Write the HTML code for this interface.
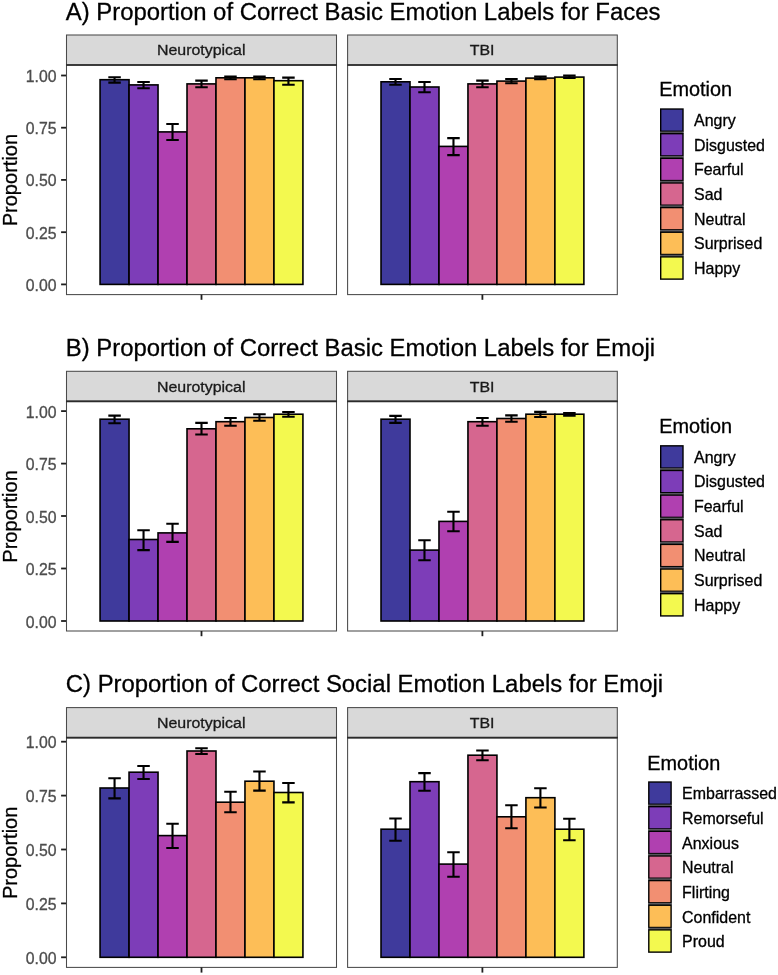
<!DOCTYPE html>
<html lang="en"><head><meta charset="utf-8"><title>Proportion of Correct Emotion Labels</title>
<style>html,body{margin:0;padding:0;background:#fff}body{width:778px;height:975px;overflow:hidden}svg{display:block}</style>
</head><body>
<svg width="778" height="975" viewBox="0 0 778 975" font-family='"Liberation Sans", Arial, Helvetica, sans-serif'>
<rect width="778" height="975" fill="#fff"/>
<g>
<text transform="translate(65.80,19.80) scale(0.9875,1)" font-size="24.2" fill="#000" stroke="#000" stroke-width="0.3">A) Proportion of Correct Basic Emotion Labels for Faces</text>
<text transform="translate(17.10,180.10) rotate(-90) scale(0.993,1)" text-anchor="middle" font-size="20.2" fill="#000" stroke="#000" stroke-width="0.3">Proportion</text>
<text transform="translate(56.50,290.90) scale(1.02,1.08)" text-anchor="end" font-size="15.5" fill="#4d4d4d" stroke="#4d4d4d" stroke-width="0.3">0.00</text>
<line x1="61.1" x2="66.5" y1="284.4" y2="284.4" stroke="#1f1f1f" stroke-width="1.8"/>
<text transform="translate(56.50,238.67) scale(1.02,1.08)" text-anchor="end" font-size="15.5" fill="#4d4d4d" stroke="#4d4d4d" stroke-width="0.3">0.25</text>
<line x1="61.1" x2="66.5" y1="232.2" y2="232.2" stroke="#1f1f1f" stroke-width="1.8"/>
<text transform="translate(56.50,186.45) scale(1.02,1.08)" text-anchor="end" font-size="15.5" fill="#4d4d4d" stroke="#4d4d4d" stroke-width="0.3">0.50</text>
<line x1="61.1" x2="66.5" y1="179.9" y2="179.9" stroke="#1f1f1f" stroke-width="1.8"/>
<text transform="translate(56.50,134.22) scale(1.02,1.08)" text-anchor="end" font-size="15.5" fill="#4d4d4d" stroke="#4d4d4d" stroke-width="0.3">0.75</text>
<line x1="61.1" x2="66.5" y1="127.7" y2="127.7" stroke="#1f1f1f" stroke-width="1.8"/>
<text transform="translate(56.50,82.00) scale(1.02,1.08)" text-anchor="end" font-size="15.5" fill="#4d4d4d" stroke="#4d4d4d" stroke-width="0.3">1.00</text>
<line x1="61.1" x2="66.5" y1="75.5" y2="75.5" stroke="#1f1f1f" stroke-width="1.8"/>
<rect x="66.5" y="35.0" width="270.0" height="30.0" fill="#d9d9d9" stroke="#4a4a4a" stroke-width="1.05"/>
<text transform="translate(201.20,55.45) scale(1.07,1)" text-anchor="middle" font-size="14.9" fill="#1a1a1a" stroke="#1a1a1a" stroke-width="0.3">Neurotypical</text>
<rect x="100.07" y="79.7" width="28.98" height="204.7" fill="#3F3A9C" stroke="#000" stroke-width="1.6"/>
<rect x="129.05" y="84.9" width="28.98" height="199.5" fill="#7D3DB8" stroke="#000" stroke-width="1.6"/>
<rect x="158.03" y="131.9" width="28.98" height="152.5" fill="#B040B0" stroke="#000" stroke-width="1.6"/>
<rect x="187.01" y="83.9" width="28.98" height="200.5" fill="#D6668F" stroke="#000" stroke-width="1.6"/>
<rect x="215.99" y="77.8" width="28.98" height="206.6" fill="#F28F72" stroke="#000" stroke-width="1.6"/>
<rect x="244.97" y="77.8" width="28.98" height="206.6" fill="#FDBE57" stroke="#000" stroke-width="1.6"/>
<rect x="273.95" y="80.7" width="28.98" height="203.7" fill="#F3F94F" stroke="#000" stroke-width="1.6"/>
<path d="M108.31 77.2H120.81M108.31 82.6H120.81M114.56 77.2V82.6" fill="none" stroke="#000" stroke-width="2.1"/>
<path d="M137.29 82.0H149.79M137.29 88.2H149.79M143.54 82.0V88.2" fill="none" stroke="#000" stroke-width="2.1"/>
<path d="M166.27 124.0H178.77M166.27 140.0H178.77M172.52 124.0V140.0" fill="none" stroke="#000" stroke-width="2.1"/>
<path d="M195.25 80.6H207.75M195.25 87.2H207.75M201.50 80.6V87.2" fill="none" stroke="#000" stroke-width="2.1"/>
<path d="M224.23 76.6H236.73M224.23 79.2H236.73M230.48 76.6V79.2" fill="none" stroke="#000" stroke-width="2.1"/>
<path d="M253.21 76.6H265.71M253.21 79.2H265.71M259.46 76.6V79.2" fill="none" stroke="#000" stroke-width="2.1"/>
<path d="M282.19 77.6H294.69M282.19 84.8H294.69M288.44 77.6V84.8" fill="none" stroke="#000" stroke-width="2.1"/>
<rect x="66.5" y="65.0" width="270.0" height="229.6" fill="none" stroke="#4a4a4a" stroke-width="1.05"/>
<line x1="66.0" x2="337.0" y1="65.0" y2="65.0" stroke="#2b2b2b" stroke-width="1.7"/>
<line x1="201.5" x2="201.5" y1="294.6" y2="299.8" stroke="#1f1f1f" stroke-width="1.8"/>
<rect x="347.6" y="35.0" width="269.7" height="30.0" fill="#d9d9d9" stroke="#4a4a4a" stroke-width="1.05"/>
<text transform="translate(482.15,55.45) scale(1.07,1)" text-anchor="middle" font-size="14.9" fill="#1a1a1a" stroke="#1a1a1a" stroke-width="0.3">TBI</text>
<rect x="381.02" y="81.8" width="28.98" height="202.6" fill="#3F3A9C" stroke="#000" stroke-width="1.6"/>
<rect x="410.00" y="87.0" width="28.98" height="197.4" fill="#7D3DB8" stroke="#000" stroke-width="1.6"/>
<rect x="438.98" y="146.4" width="28.98" height="138.0" fill="#B040B0" stroke="#000" stroke-width="1.6"/>
<rect x="467.96" y="83.9" width="28.98" height="200.5" fill="#D6668F" stroke="#000" stroke-width="1.6"/>
<rect x="496.94" y="81.1" width="28.98" height="203.3" fill="#F28F72" stroke="#000" stroke-width="1.6"/>
<rect x="525.92" y="78.1" width="28.98" height="206.3" fill="#FDBE57" stroke="#000" stroke-width="1.6"/>
<rect x="554.90" y="77.1" width="28.98" height="207.3" fill="#F3F94F" stroke="#000" stroke-width="1.6"/>
<path d="M389.26 79.0H401.76M389.26 84.8H401.76M395.51 79.0V84.8" fill="none" stroke="#000" stroke-width="2.1"/>
<path d="M418.24 82.0H430.74M418.24 92.2H430.74M424.49 82.0V92.2" fill="none" stroke="#000" stroke-width="2.1"/>
<path d="M447.22 138.1H459.72M447.22 155.1H459.72M453.47 138.1V155.1" fill="none" stroke="#000" stroke-width="2.1"/>
<path d="M476.20 80.6H488.70M476.20 87.2H488.70M482.45 80.6V87.2" fill="none" stroke="#000" stroke-width="2.1"/>
<path d="M505.18 79.0H517.68M505.18 83.3H517.68M511.43 79.0V83.3" fill="none" stroke="#000" stroke-width="2.1"/>
<path d="M534.16 76.6H546.66M534.16 79.2H546.66M540.41 76.6V79.2" fill="none" stroke="#000" stroke-width="2.1"/>
<path d="M563.14 75.6H575.64M563.14 78.0H575.64M569.39 75.6V78.0" fill="none" stroke="#000" stroke-width="2.1"/>
<rect x="347.6" y="65.0" width="269.7" height="229.6" fill="none" stroke="#4a4a4a" stroke-width="1.05"/>
<line x1="347.1" x2="617.8" y1="65.0" y2="65.0" stroke="#2b2b2b" stroke-width="1.7"/>
<line x1="482.4" x2="482.4" y1="294.6" y2="299.8" stroke="#1f1f1f" stroke-width="1.8"/>
<text transform="translate(659.20,96.20) scale(1.02,1)" font-size="19.5" fill="#000" stroke="#000" stroke-width="0.3">Emotion</text>
<rect x="660.7" y="109.03" width="22.3" height="22.25" fill="#3F3A9C" stroke="#000" stroke-width="1.4"/>
<text transform="translate(694.00,126.05) scale(0.998,1)" font-size="16.0" fill="#000" stroke="#000" stroke-width="0.3">Angry</text>
<line x1="660.0" x2="683.7" y1="132.49" y2="132.49" stroke="#55555a" stroke-width="1.9"/>
<rect x="660.7" y="133.67" width="22.3" height="22.25" fill="#7D3DB8" stroke="#000" stroke-width="1.4"/>
<text transform="translate(694.00,150.69) scale(0.998,1)" font-size="16.0" fill="#000" stroke="#000" stroke-width="0.3">Disgusted</text>
<line x1="660.0" x2="683.7" y1="157.13" y2="157.13" stroke="#55555a" stroke-width="1.9"/>
<rect x="660.7" y="158.31" width="22.3" height="22.25" fill="#B040B0" stroke="#000" stroke-width="1.4"/>
<text transform="translate(694.00,175.33) scale(0.998,1)" font-size="16.0" fill="#000" stroke="#000" stroke-width="0.3">Fearful</text>
<line x1="660.0" x2="683.7" y1="181.77" y2="181.77" stroke="#55555a" stroke-width="1.9"/>
<rect x="660.7" y="182.95" width="22.3" height="22.25" fill="#D6668F" stroke="#000" stroke-width="1.4"/>
<text transform="translate(694.00,199.97) scale(0.998,1)" font-size="16.0" fill="#000" stroke="#000" stroke-width="0.3">Sad</text>
<line x1="660.0" x2="683.7" y1="206.41" y2="206.41" stroke="#55555a" stroke-width="1.9"/>
<rect x="660.7" y="207.59" width="22.3" height="22.25" fill="#F28F72" stroke="#000" stroke-width="1.4"/>
<text transform="translate(694.00,224.61) scale(0.998,1)" font-size="16.0" fill="#000" stroke="#000" stroke-width="0.3">Neutral</text>
<line x1="660.0" x2="683.7" y1="231.05" y2="231.05" stroke="#55555a" stroke-width="1.9"/>
<rect x="660.7" y="232.23" width="22.3" height="22.25" fill="#FDBE57" stroke="#000" stroke-width="1.4"/>
<text transform="translate(694.00,249.25) scale(0.998,1)" font-size="16.0" fill="#000" stroke="#000" stroke-width="0.3">Surprised</text>
<line x1="660.0" x2="683.7" y1="255.69" y2="255.69" stroke="#55555a" stroke-width="1.9"/>
<rect x="660.7" y="256.87" width="22.3" height="22.25" fill="#F3F94F" stroke="#000" stroke-width="1.4"/>
<text transform="translate(694.00,273.89) scale(0.998,1)" font-size="16.0" fill="#000" stroke="#000" stroke-width="0.3">Happy</text>
</g>
<g>
<text transform="translate(65.80,356.40) scale(0.9875,1)" font-size="24.2" fill="#000" stroke="#000" stroke-width="0.3">B) Proportion of Correct Basic Emotion Labels for Emoji</text>
<text transform="translate(17.10,516.45) rotate(-90) scale(0.993,1)" text-anchor="middle" font-size="20.2" fill="#000" stroke="#000" stroke-width="0.3">Proportion</text>
<text transform="translate(56.50,627.50) scale(1.02,1.08)" text-anchor="end" font-size="15.5" fill="#4d4d4d" stroke="#4d4d4d" stroke-width="0.3">0.00</text>
<line x1="61.1" x2="66.5" y1="621.0" y2="621.0" stroke="#1f1f1f" stroke-width="1.8"/>
<text transform="translate(56.50,575.02) scale(1.02,1.08)" text-anchor="end" font-size="15.5" fill="#4d4d4d" stroke="#4d4d4d" stroke-width="0.3">0.25</text>
<line x1="61.1" x2="66.5" y1="568.5" y2="568.5" stroke="#1f1f1f" stroke-width="1.8"/>
<text transform="translate(56.50,522.55) scale(1.02,1.08)" text-anchor="end" font-size="15.5" fill="#4d4d4d" stroke="#4d4d4d" stroke-width="0.3">0.50</text>
<line x1="61.1" x2="66.5" y1="516.0" y2="516.0" stroke="#1f1f1f" stroke-width="1.8"/>
<text transform="translate(56.50,470.08) scale(1.02,1.08)" text-anchor="end" font-size="15.5" fill="#4d4d4d" stroke="#4d4d4d" stroke-width="0.3">0.75</text>
<line x1="61.1" x2="66.5" y1="463.6" y2="463.6" stroke="#1f1f1f" stroke-width="1.8"/>
<text transform="translate(56.50,417.60) scale(1.02,1.08)" text-anchor="end" font-size="15.5" fill="#4d4d4d" stroke="#4d4d4d" stroke-width="0.3">1.00</text>
<line x1="61.1" x2="66.5" y1="411.1" y2="411.1" stroke="#1f1f1f" stroke-width="1.8"/>
<rect x="66.5" y="371.3" width="270.0" height="30.0" fill="#d9d9d9" stroke="#4a4a4a" stroke-width="1.05"/>
<text transform="translate(201.20,391.75) scale(1.07,1)" text-anchor="middle" font-size="14.9" fill="#1a1a1a" stroke="#1a1a1a" stroke-width="0.3">Neurotypical</text>
<rect x="100.07" y="419.2" width="28.98" height="201.8" fill="#3F3A9C" stroke="#000" stroke-width="1.6"/>
<rect x="129.05" y="539.5" width="28.98" height="81.5" fill="#7D3DB8" stroke="#000" stroke-width="1.6"/>
<rect x="158.03" y="532.9" width="28.98" height="88.1" fill="#B040B0" stroke="#000" stroke-width="1.6"/>
<rect x="187.01" y="428.8" width="28.98" height="192.2" fill="#D6668F" stroke="#000" stroke-width="1.6"/>
<rect x="215.99" y="421.7" width="28.98" height="199.3" fill="#F28F72" stroke="#000" stroke-width="1.6"/>
<rect x="244.97" y="417.5" width="28.98" height="203.5" fill="#FDBE57" stroke="#000" stroke-width="1.6"/>
<rect x="273.95" y="414.2" width="28.98" height="206.8" fill="#F3F94F" stroke="#000" stroke-width="1.6"/>
<path d="M108.31 415.6H120.81M108.31 423.3H120.81M114.56 415.6V423.3" fill="none" stroke="#000" stroke-width="2.1"/>
<path d="M137.29 530.3H149.79M137.29 550.1H149.79M143.54 530.3V550.1" fill="none" stroke="#000" stroke-width="2.1"/>
<path d="M166.27 523.8H178.77M166.27 541.9H178.77M172.52 523.8V541.9" fill="none" stroke="#000" stroke-width="2.1"/>
<path d="M195.25 422.9H207.75M195.25 434.5H207.75M201.50 422.9V434.5" fill="none" stroke="#000" stroke-width="2.1"/>
<path d="M224.23 418.0H236.73M224.23 425.8H236.73M230.48 418.0V425.8" fill="none" stroke="#000" stroke-width="2.1"/>
<path d="M253.21 414.2H265.71M253.21 420.8H265.71M259.46 414.2V420.8" fill="none" stroke="#000" stroke-width="2.1"/>
<path d="M282.19 412.0H294.69M282.19 416.8H294.69M288.44 412.0V416.8" fill="none" stroke="#000" stroke-width="2.1"/>
<rect x="66.5" y="401.3" width="270.0" height="229.7" fill="none" stroke="#4a4a4a" stroke-width="1.05"/>
<line x1="66.0" x2="337.0" y1="401.3" y2="401.3" stroke="#2b2b2b" stroke-width="1.7"/>
<line x1="201.5" x2="201.5" y1="631.0" y2="636.2" stroke="#1f1f1f" stroke-width="1.8"/>
<rect x="347.6" y="371.3" width="269.7" height="30.0" fill="#d9d9d9" stroke="#4a4a4a" stroke-width="1.05"/>
<text transform="translate(482.15,391.75) scale(1.07,1)" text-anchor="middle" font-size="14.9" fill="#1a1a1a" stroke="#1a1a1a" stroke-width="0.3">TBI</text>
<rect x="381.02" y="419.2" width="28.98" height="201.8" fill="#3F3A9C" stroke="#000" stroke-width="1.6"/>
<rect x="410.00" y="550.1" width="28.98" height="70.9" fill="#7D3DB8" stroke="#000" stroke-width="1.6"/>
<rect x="438.98" y="521.4" width="28.98" height="99.6" fill="#B040B0" stroke="#000" stroke-width="1.6"/>
<rect x="467.96" y="421.7" width="28.98" height="199.3" fill="#D6668F" stroke="#000" stroke-width="1.6"/>
<rect x="496.94" y="418.5" width="28.98" height="202.5" fill="#F28F72" stroke="#000" stroke-width="1.6"/>
<rect x="525.92" y="414.2" width="28.98" height="206.8" fill="#FDBE57" stroke="#000" stroke-width="1.6"/>
<rect x="554.90" y="414.2" width="28.98" height="206.8" fill="#F3F94F" stroke="#000" stroke-width="1.6"/>
<path d="M389.26 415.9H401.76M389.26 422.9H401.76M395.51 415.9V422.9" fill="none" stroke="#000" stroke-width="2.1"/>
<path d="M418.24 540.2H430.74M418.24 560.3H430.74M424.49 540.2V560.3" fill="none" stroke="#000" stroke-width="2.1"/>
<path d="M447.22 511.7H459.72M447.22 531.3H459.72M453.47 511.7V531.3" fill="none" stroke="#000" stroke-width="2.1"/>
<path d="M476.20 418.0H488.70M476.20 425.8H488.70M482.45 418.0V425.8" fill="none" stroke="#000" stroke-width="2.1"/>
<path d="M505.18 415.4H517.68M505.18 421.8H517.68M511.43 415.4V421.8" fill="none" stroke="#000" stroke-width="2.1"/>
<path d="M534.16 411.9H546.66M534.16 417.0H546.66M540.41 411.9V417.0" fill="none" stroke="#000" stroke-width="2.1"/>
<path d="M563.14 413.1H575.64M563.14 415.8H575.64M569.39 413.1V415.8" fill="none" stroke="#000" stroke-width="2.1"/>
<rect x="347.6" y="401.3" width="269.7" height="229.7" fill="none" stroke="#4a4a4a" stroke-width="1.05"/>
<line x1="347.1" x2="617.8" y1="401.3" y2="401.3" stroke="#2b2b2b" stroke-width="1.7"/>
<line x1="482.4" x2="482.4" y1="631.0" y2="636.2" stroke="#1f1f1f" stroke-width="1.8"/>
<text transform="translate(659.20,433.00) scale(1.02,1)" font-size="19.5" fill="#000" stroke="#000" stroke-width="0.3">Emotion</text>
<rect x="660.7" y="445.83" width="22.3" height="22.25" fill="#3F3A9C" stroke="#000" stroke-width="1.4"/>
<text transform="translate(694.00,462.85) scale(0.998,1)" font-size="16.0" fill="#000" stroke="#000" stroke-width="0.3">Angry</text>
<line x1="660.0" x2="683.7" y1="469.29" y2="469.29" stroke="#55555a" stroke-width="1.9"/>
<rect x="660.7" y="470.47" width="22.3" height="22.25" fill="#7D3DB8" stroke="#000" stroke-width="1.4"/>
<text transform="translate(694.00,487.49) scale(0.998,1)" font-size="16.0" fill="#000" stroke="#000" stroke-width="0.3">Disgusted</text>
<line x1="660.0" x2="683.7" y1="493.93" y2="493.93" stroke="#55555a" stroke-width="1.9"/>
<rect x="660.7" y="495.11" width="22.3" height="22.25" fill="#B040B0" stroke="#000" stroke-width="1.4"/>
<text transform="translate(694.00,512.13) scale(0.998,1)" font-size="16.0" fill="#000" stroke="#000" stroke-width="0.3">Fearful</text>
<line x1="660.0" x2="683.7" y1="518.57" y2="518.57" stroke="#55555a" stroke-width="1.9"/>
<rect x="660.7" y="519.75" width="22.3" height="22.25" fill="#D6668F" stroke="#000" stroke-width="1.4"/>
<text transform="translate(694.00,536.77) scale(0.998,1)" font-size="16.0" fill="#000" stroke="#000" stroke-width="0.3">Sad</text>
<line x1="660.0" x2="683.7" y1="543.21" y2="543.21" stroke="#55555a" stroke-width="1.9"/>
<rect x="660.7" y="544.39" width="22.3" height="22.25" fill="#F28F72" stroke="#000" stroke-width="1.4"/>
<text transform="translate(694.00,561.41) scale(0.998,1)" font-size="16.0" fill="#000" stroke="#000" stroke-width="0.3">Neutral</text>
<line x1="660.0" x2="683.7" y1="567.85" y2="567.85" stroke="#55555a" stroke-width="1.9"/>
<rect x="660.7" y="569.03" width="22.3" height="22.25" fill="#FDBE57" stroke="#000" stroke-width="1.4"/>
<text transform="translate(694.00,586.05) scale(0.998,1)" font-size="16.0" fill="#000" stroke="#000" stroke-width="0.3">Surprised</text>
<line x1="660.0" x2="683.7" y1="592.49" y2="592.49" stroke="#55555a" stroke-width="1.9"/>
<rect x="660.7" y="593.67" width="22.3" height="22.25" fill="#F3F94F" stroke="#000" stroke-width="1.4"/>
<text transform="translate(694.00,610.69) scale(0.998,1)" font-size="16.0" fill="#000" stroke="#000" stroke-width="0.3">Happy</text>
</g>
<g>
<text transform="translate(65.80,692.00) scale(0.9875,1)" font-size="24.2" fill="#000" stroke="#000" stroke-width="0.3">C) Proportion of Correct Social Emotion Labels for Emoji</text>
<text transform="translate(17.10,852.85) rotate(-90) scale(0.993,1)" text-anchor="middle" font-size="20.2" fill="#000" stroke="#000" stroke-width="0.3">Proportion</text>
<text transform="translate(56.50,963.80) scale(1.02,1.08)" text-anchor="end" font-size="15.5" fill="#4d4d4d" stroke="#4d4d4d" stroke-width="0.3">0.00</text>
<line x1="61.1" x2="66.5" y1="957.3" y2="957.3" stroke="#1f1f1f" stroke-width="1.8"/>
<text transform="translate(56.50,909.90) scale(1.02,1.08)" text-anchor="end" font-size="15.5" fill="#4d4d4d" stroke="#4d4d4d" stroke-width="0.3">0.25</text>
<line x1="61.1" x2="66.5" y1="903.4" y2="903.4" stroke="#1f1f1f" stroke-width="1.8"/>
<text transform="translate(56.50,856.00) scale(1.02,1.08)" text-anchor="end" font-size="15.5" fill="#4d4d4d" stroke="#4d4d4d" stroke-width="0.3">0.50</text>
<line x1="61.1" x2="66.5" y1="849.5" y2="849.5" stroke="#1f1f1f" stroke-width="1.8"/>
<text transform="translate(56.50,802.10) scale(1.02,1.08)" text-anchor="end" font-size="15.5" fill="#4d4d4d" stroke="#4d4d4d" stroke-width="0.3">0.75</text>
<line x1="61.1" x2="66.5" y1="795.6" y2="795.6" stroke="#1f1f1f" stroke-width="1.8"/>
<text transform="translate(56.50,748.20) scale(1.02,1.08)" text-anchor="end" font-size="15.5" fill="#4d4d4d" stroke="#4d4d4d" stroke-width="0.3">1.00</text>
<line x1="61.1" x2="66.5" y1="741.7" y2="741.7" stroke="#1f1f1f" stroke-width="1.8"/>
<rect x="66.5" y="707.6" width="270.0" height="30.1" fill="#d9d9d9" stroke="#4a4a4a" stroke-width="1.05"/>
<text transform="translate(201.20,728.10) scale(1.07,1)" text-anchor="middle" font-size="14.9" fill="#1a1a1a" stroke="#1a1a1a" stroke-width="0.3">Neurotypical</text>
<rect x="100.07" y="788.0" width="28.98" height="169.3" fill="#3F3A9C" stroke="#000" stroke-width="1.6"/>
<rect x="129.05" y="772.2" width="28.98" height="185.1" fill="#7D3DB8" stroke="#000" stroke-width="1.6"/>
<rect x="158.03" y="835.6" width="28.98" height="121.7" fill="#B040B0" stroke="#000" stroke-width="1.6"/>
<rect x="187.01" y="751.0" width="28.98" height="206.3" fill="#D6668F" stroke="#000" stroke-width="1.6"/>
<rect x="215.99" y="802.2" width="28.98" height="155.1" fill="#F28F72" stroke="#000" stroke-width="1.6"/>
<rect x="244.97" y="781.2" width="28.98" height="176.1" fill="#FDBE57" stroke="#000" stroke-width="1.6"/>
<rect x="273.95" y="792.5" width="28.98" height="164.8" fill="#F3F94F" stroke="#000" stroke-width="1.6"/>
<path d="M108.31 778.3H120.81M108.31 798.4H120.81M114.56 778.3V798.4" fill="none" stroke="#000" stroke-width="2.1"/>
<path d="M137.29 766.0H149.79M137.29 779.0H149.79M143.54 766.0V779.0" fill="none" stroke="#000" stroke-width="2.1"/>
<path d="M166.27 823.8H178.77M166.27 848.0H178.77M172.52 823.8V848.0" fill="none" stroke="#000" stroke-width="2.1"/>
<path d="M195.25 748.3H207.75M195.25 754.0H207.75M201.50 748.3V754.0" fill="none" stroke="#000" stroke-width="2.1"/>
<path d="M224.23 791.8H236.73M224.23 812.3H236.73M230.48 791.8V812.3" fill="none" stroke="#000" stroke-width="2.1"/>
<path d="M253.21 771.5H265.71M253.21 790.6H265.71M259.46 771.5V790.6" fill="none" stroke="#000" stroke-width="2.1"/>
<path d="M282.19 783.0H294.69M282.19 802.4H294.69M288.44 783.0V802.4" fill="none" stroke="#000" stroke-width="2.1"/>
<rect x="66.5" y="737.7" width="270.0" height="229.7" fill="none" stroke="#4a4a4a" stroke-width="1.05"/>
<line x1="66.0" x2="337.0" y1="737.7" y2="737.7" stroke="#2b2b2b" stroke-width="1.7"/>
<line x1="201.5" x2="201.5" y1="967.4" y2="972.6" stroke="#1f1f1f" stroke-width="1.8"/>
<rect x="347.6" y="707.6" width="269.7" height="30.1" fill="#d9d9d9" stroke="#4a4a4a" stroke-width="1.05"/>
<text transform="translate(482.15,728.10) scale(1.07,1)" text-anchor="middle" font-size="14.9" fill="#1a1a1a" stroke="#1a1a1a" stroke-width="0.3">TBI</text>
<rect x="381.02" y="829.2" width="28.98" height="128.1" fill="#3F3A9C" stroke="#000" stroke-width="1.6"/>
<rect x="410.00" y="781.7" width="28.98" height="175.6" fill="#7D3DB8" stroke="#000" stroke-width="1.6"/>
<rect x="438.98" y="864.1" width="28.98" height="93.2" fill="#B040B0" stroke="#000" stroke-width="1.6"/>
<rect x="467.96" y="755.2" width="28.98" height="202.1" fill="#D6668F" stroke="#000" stroke-width="1.6"/>
<rect x="496.94" y="816.8" width="28.98" height="140.5" fill="#F28F72" stroke="#000" stroke-width="1.6"/>
<rect x="525.92" y="797.7" width="28.98" height="159.6" fill="#FDBE57" stroke="#000" stroke-width="1.6"/>
<rect x="554.90" y="829.2" width="28.98" height="128.1" fill="#F3F94F" stroke="#000" stroke-width="1.6"/>
<path d="M389.26 818.5H401.76M389.26 840.7H401.76M395.51 818.5V840.7" fill="none" stroke="#000" stroke-width="2.1"/>
<path d="M418.24 773.1H430.74M418.24 790.8H430.74M424.49 773.1V790.8" fill="none" stroke="#000" stroke-width="2.1"/>
<path d="M447.22 852.3H459.72M447.22 876.8H459.72M453.47 852.3V876.8" fill="none" stroke="#000" stroke-width="2.1"/>
<path d="M476.20 750.5H488.70M476.20 760.2H488.70M482.45 750.5V760.2" fill="none" stroke="#000" stroke-width="2.1"/>
<path d="M505.18 805.2H517.68M505.18 828.3H517.68M511.43 805.2V828.3" fill="none" stroke="#000" stroke-width="2.1"/>
<path d="M534.16 788.3H546.66M534.16 807.5H546.66M540.41 788.3V807.5" fill="none" stroke="#000" stroke-width="2.1"/>
<path d="M563.14 818.8H575.64M563.14 840.3H575.64M569.39 818.8V840.3" fill="none" stroke="#000" stroke-width="2.1"/>
<rect x="347.6" y="737.7" width="269.7" height="229.7" fill="none" stroke="#4a4a4a" stroke-width="1.05"/>
<line x1="347.1" x2="617.8" y1="737.7" y2="737.7" stroke="#2b2b2b" stroke-width="1.7"/>
<line x1="482.4" x2="482.4" y1="967.4" y2="972.6" stroke="#1f1f1f" stroke-width="1.8"/>
<text transform="translate(647.30,769.60) scale(1.02,1)" font-size="19.5" fill="#000" stroke="#000" stroke-width="0.3">Emotion</text>
<rect x="648.8" y="782.03" width="22.3" height="22.25" fill="#3F3A9C" stroke="#000" stroke-width="1.4"/>
<text transform="translate(682.10,799.45) scale(0.998,1)" font-size="16.0" fill="#000" stroke="#000" stroke-width="0.3">Embarrassed</text>
<line x1="648.1" x2="671.8" y1="805.49" y2="805.49" stroke="#55555a" stroke-width="1.9"/>
<rect x="648.8" y="806.67" width="22.3" height="22.25" fill="#7D3DB8" stroke="#000" stroke-width="1.4"/>
<text transform="translate(682.10,824.09) scale(0.998,1)" font-size="16.0" fill="#000" stroke="#000" stroke-width="0.3">Remorseful</text>
<line x1="648.1" x2="671.8" y1="830.13" y2="830.13" stroke="#55555a" stroke-width="1.9"/>
<rect x="648.8" y="831.31" width="22.3" height="22.25" fill="#B040B0" stroke="#000" stroke-width="1.4"/>
<text transform="translate(682.10,848.73) scale(0.998,1)" font-size="16.0" fill="#000" stroke="#000" stroke-width="0.3">Anxious</text>
<line x1="648.1" x2="671.8" y1="854.77" y2="854.77" stroke="#55555a" stroke-width="1.9"/>
<rect x="648.8" y="855.95" width="22.3" height="22.25" fill="#D6668F" stroke="#000" stroke-width="1.4"/>
<text transform="translate(682.10,873.37) scale(0.998,1)" font-size="16.0" fill="#000" stroke="#000" stroke-width="0.3">Neutral</text>
<line x1="648.1" x2="671.8" y1="879.41" y2="879.41" stroke="#55555a" stroke-width="1.9"/>
<rect x="648.8" y="880.59" width="22.3" height="22.25" fill="#F28F72" stroke="#000" stroke-width="1.4"/>
<text transform="translate(682.10,898.01) scale(0.998,1)" font-size="16.0" fill="#000" stroke="#000" stroke-width="0.3">Flirting</text>
<line x1="648.1" x2="671.8" y1="904.05" y2="904.05" stroke="#55555a" stroke-width="1.9"/>
<rect x="648.8" y="905.23" width="22.3" height="22.25" fill="#FDBE57" stroke="#000" stroke-width="1.4"/>
<text transform="translate(682.10,922.65) scale(0.998,1)" font-size="16.0" fill="#000" stroke="#000" stroke-width="0.3">Confident</text>
<line x1="648.1" x2="671.8" y1="928.69" y2="928.69" stroke="#55555a" stroke-width="1.9"/>
<rect x="648.8" y="929.87" width="22.3" height="22.25" fill="#F3F94F" stroke="#000" stroke-width="1.4"/>
<text transform="translate(682.10,947.29) scale(0.998,1)" font-size="16.0" fill="#000" stroke="#000" stroke-width="0.3">Proud</text>
</g>
</svg>
</body></html>
